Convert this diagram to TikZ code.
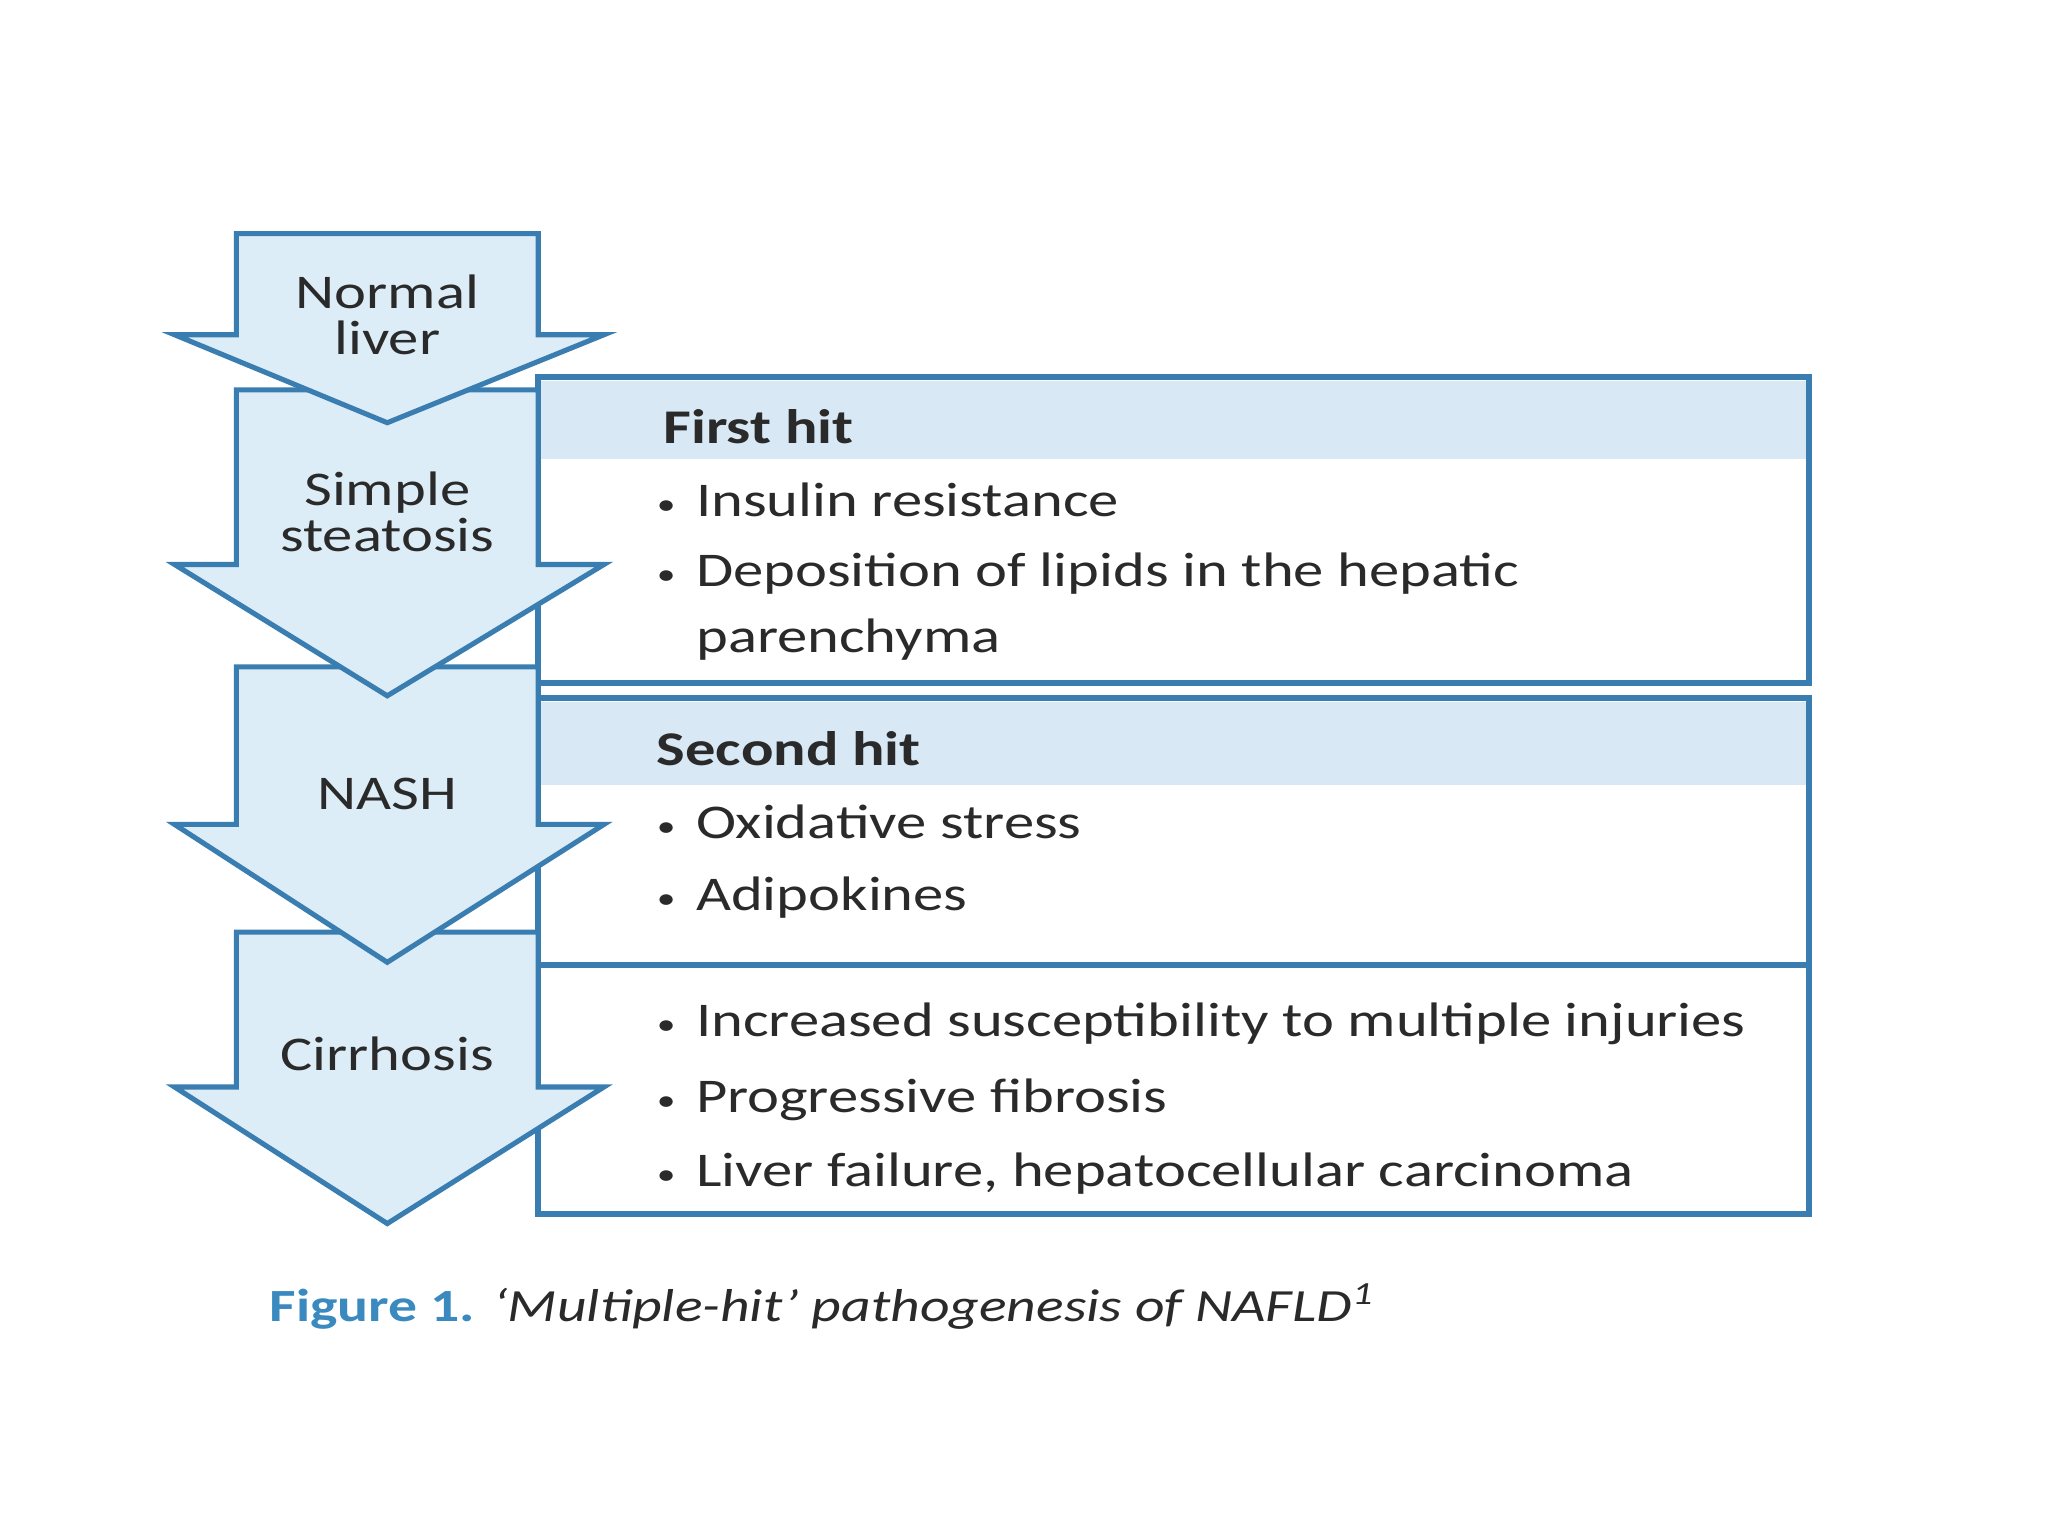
\documentclass[tikz,border=0pt]{standalone}
\usepackage{fontspec}
\setmainfont[FakeStretch=1.25]{Carlito}
\definecolor{edge}{HTML}{3A7DB0}
\definecolor{afill}{HTML}{DDEDF8}
\definecolor{hfill}{HTML}{D8E9F5}
\definecolor{txt}{HTML}{2A2A2A}
\definecolor{capblue}{HTML}{3A8AC0}
\tikzset{x=0.02cm,y=-0.02cm,
 arr/.style={draw=edge,fill=afill,line width=2.2pt,line join=miter},
 boxe/.style={draw=edge,line width=2.6pt},
 lbl/.style={font=\fontsize{21}{24}\selectfont,text=txt,align=center},
 itm/.style={font=\fontsize{21}{24}\selectfont,text=txt,anchor=west,inner sep=0pt},
 hd/.style={font=\bfseries\fontsize{21}{24}\selectfont,text=txt,anchor=west,inner sep=0pt}}
\newcommand{\myarrow}[3]{\draw[arr] (180,#1) -- (410,#1) -- (410,#2) -- (460,#2) -- (295,#3) -- (133,#2) -- (180,#2) -- cycle;}
\newcommand{\bul}{\makebox[17pt][l]{\raisebox{1pt}{\fontsize{13}{13}\selectfont•}}}
\begin{document}
\begin{tikzpicture}
\useasboundingbox (0,0) rectangle (1560,1170);
\fill[white] (0,0) rectangle (1560,1170);
% boxes
\fill[hfill] (410,290) rectangle (1376,350);
\fill[hfill] (410,535) rectangle (1376,598);
\draw[boxe] (410,287) rectangle (1378,520);
\draw[boxe] (410,532) rectangle (1378,735);
\draw[boxe] (410,735) rectangle (1378,925);
% arrows (bottom first)
\myarrow{710}{828}{932}
\myarrow{508}{628}{733}
\myarrow{297}{430}{530}
\myarrow{178}{255}{322}
\node[lbl] (n1) at (295,240) {Normal\\[-4pt]liver};
\node[lbl] (n2) at (295,390) {Simple\\[-4pt]steatosis};
\node[lbl] (n3) at (295,605) {NASH};
\node[lbl] (n4) at (295,803) {Cirrhosis};
\node[hd] (h1) at (505,325) {First hit};
\node[itm] (a1) at (500,381) {\bul Insulin resistance};
\node[itm] (a2) at (500,437) {\bul Deposition of lipids in the hepatic};
\node[itm] (a3) at (530,487) {parenchyma};
\node[hd] (h2) at (500,570) {Second hit};
\node[itm] (b1) at (500,626) {\bul Oxidative stress};
\node[itm] (b2) at (500,684) {\bul Adipokines};
\node[itm] (c1) at (500,780) {\bul Increased susceptibility to multiple injuries};
\node[itm] (c2) at (500,838) {\bul Progressive fibrosis};
\node[itm] (c3) at (500,894) {\bul Liver failure, hepatocellular carcinoma};
\node[anchor=west,inner sep=0pt,font=\fontsize{20}{23}\selectfont] (cap) at (205,995)
 {\textcolor{capblue}{\bfseries Figure 1.}\hspace{8pt}\textcolor{txt}{\itshape ‘Multiple-hit’ pathogenesis of NAFLD\textsuperscript{1}}};
\end{tikzpicture}
\end{document}
